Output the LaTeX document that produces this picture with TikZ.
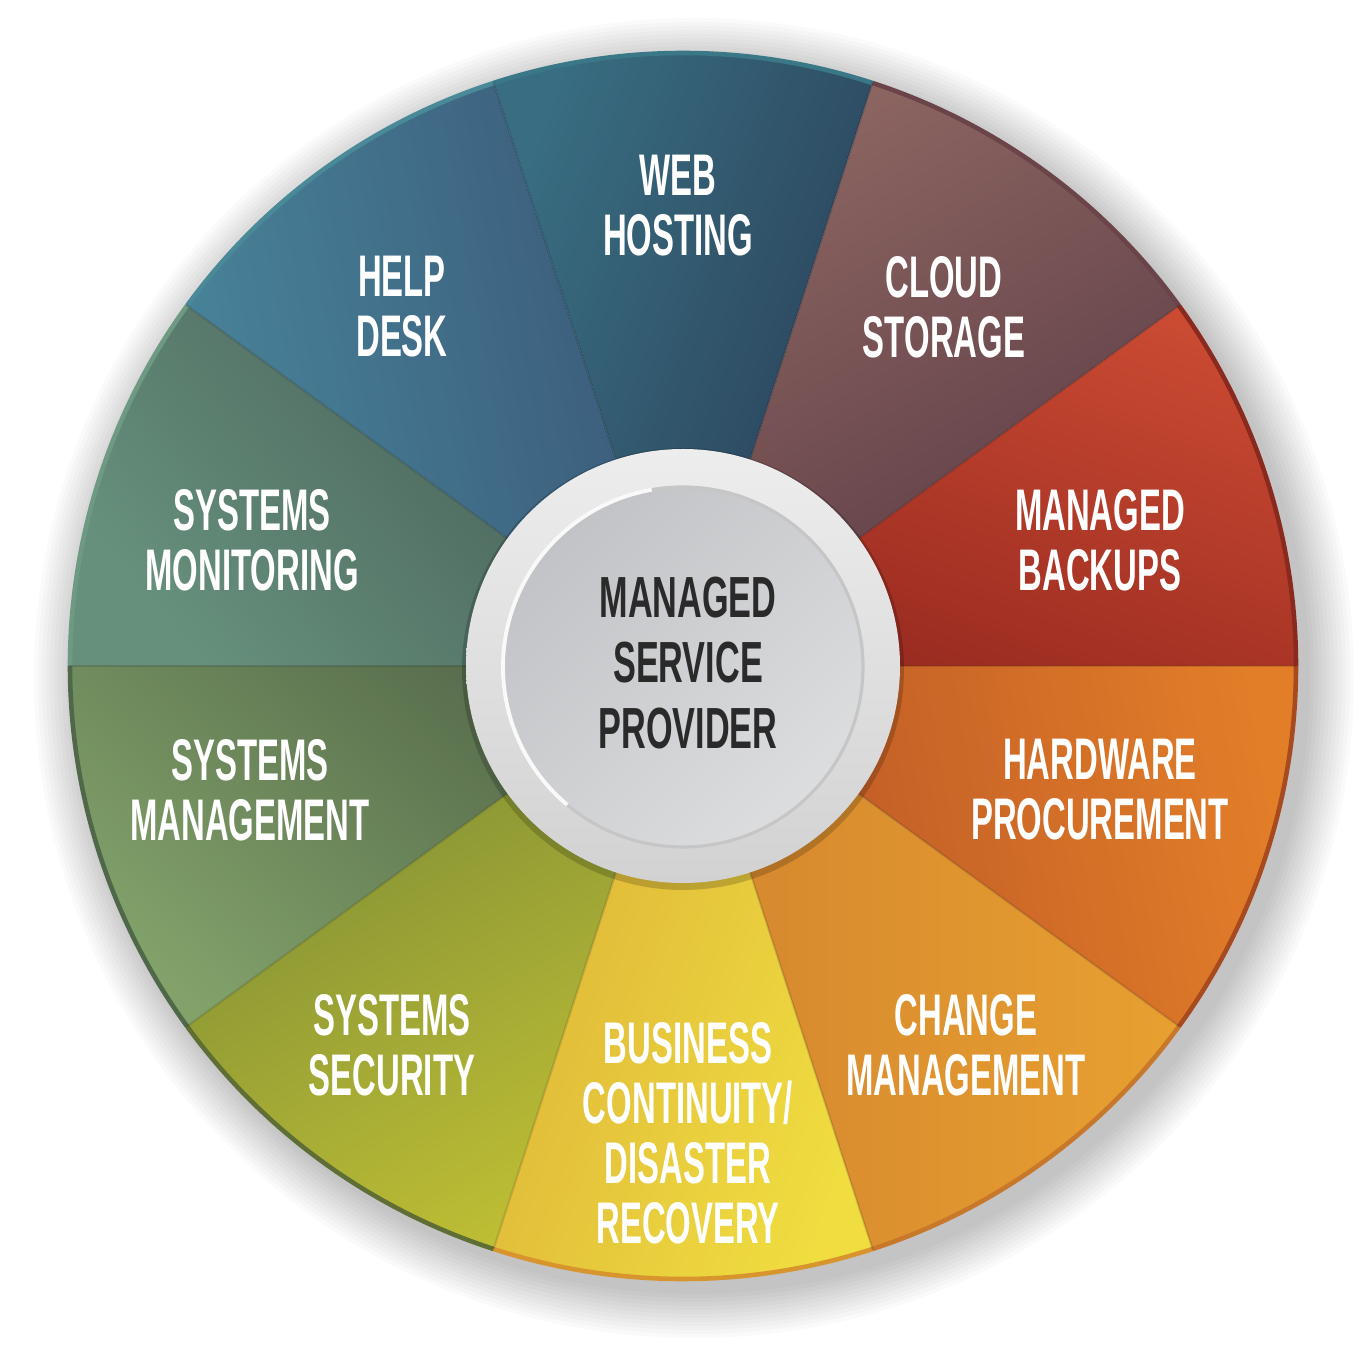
\documentclass[tikz,border=0pt]{standalone}
\usepackage{fontspec}
\newfontfamily\labelfont{Liberation Sans}[FakeStretch=0.56]
\newfontfamily\hubfont{Liberation Sans}[FakeStretch=0.59]
\usetikzlibrary{calc}
\definecolor{mbL}{HTML}{CA4A32}\definecolor{mbD}{HTML}{982A20}\definecolor{mbR}{HTML}{8A2A1E}
\definecolor{csL}{HTML}{8C6561}\definecolor{csD}{HTML}{5A3A44}\definecolor{csR}{HTML}{6A4448}
\definecolor{whL}{HTML}{396E82}\definecolor{whD}{HTML}{2A4058}\definecolor{whR}{HTML}{3A7888}
\definecolor{hdL}{HTML}{48849A}\definecolor{hdD}{HTML}{3A5878}\definecolor{hdR}{HTML}{4A8A98}
\definecolor{smL}{HTML}{66907C}\definecolor{smD}{HTML}{465C56}\definecolor{smR}{HTML}{6E9A84}
\definecolor{sgL}{HTML}{82A26A}\definecolor{sgD}{HTML}{54684A}\definecolor{sgR}{HTML}{50684A}
\definecolor{ssL}{HTML}{BEBE34}\definecolor{ssD}{HTML}{7A8A36}\definecolor{ssR}{HTML}{5E6E34}
\definecolor{bcL}{HTML}{F0DE40}\definecolor{bcD}{HTML}{DDB238}\definecolor{bcR}{HTML}{D8952E}
\definecolor{cmL}{HTML}{E8A030}\definecolor{cmD}{HTML}{D4862E}\definecolor{cmR}{HTML}{C8782A}
\definecolor{hpL}{HTML}{E27E28}\definecolor{hpD}{HTML}{B85426}\definecolor{hpR}{HTML}{A84A20}
\definecolor{hubtxt}{HTML}{2A2A2A}
\definecolor{ringL}{HTML}{EDEDED}\definecolor{ringD}{HTML}{D2D2D3}
\definecolor{discL}{HTML}{DCDDDF}\definecolor{discD}{HTML}{C2C3C6}
\newcommand\segwedge[5]{%
  \shade[top color=#2, bottom color=#3, shading angle=#4]
    (C) -- ++(#1:614) arc[start angle=#1, delta angle=36, radius=614] -- cycle;
  \draw[#5, line width=1.3pt] ($(C)+(#1:613)$) arc[start angle=#1, delta angle=36, radius=613];
}
\tikzset{
  lbl/.style={text=white, font=\labelfont\bfseries\fontsize{16.7}{17.07}\selectfont, align=center, inner sep=0pt},
  hub/.style={text=hubtxt, font=\hubfont\bfseries\fontsize{16.5}{18.5}\selectfont, align=center, inner sep=0pt}
}
\begin{document}
\begin{tikzpicture}[x=0.01cm, y=0.01cm]
\useasboundingbox (0,0) rectangle (1366,1366);
\fill[white] (0,0) rectangle (1366,1366);
\coordinate (C) at (683,700);
\coordinate (S) at (694,688);
% soft shadow
\foreach \r in {616,620,...,660} {
  \fill[black, opacity=0.02] (S) circle[radius=\r];
}
% segments
\segwedge{0}{mbL}{mbD}{-20}{mbR}
\segwedge{36}{csL}{csD}{30}{csR}
\segwedge{72}{whL}{whD}{70}{whR}
\segwedge{108}{hdL}{hdD}{100}{hdR}
\segwedge{144}{smL}{smD}{130}{smR}
\segwedge{180}{sgL}{sgD}{140}{sgR}
\segwedge{216}{ssL}{ssD}{-150}{ssR}
\segwedge{252}{bcL}{bcD}{-110}{bcR}
\segwedge{288}{cmL}{cmD}{-90}{cmR}
\segwedge{324}{hpL}{hpD}{-80}{hpR}
% subtle boundaries
\foreach \a in {0,36,...,324} {
  \draw[black, opacity=0.12, line width=0.6pt] (C) -- ++(\a:614);
}
% hub
\fill[black, opacity=0.18] ($(C)+(0,-3)$) circle[radius=221];
\shade[top color=ringL, bottom color=ringD] (C) circle[radius=217];
\coordinate (D) at (683,699);
\shade[top color=discD, bottom color=discL, shading angle=45] (D) circle[radius=180];
\draw[gray!45, line width=0.9pt] (D) circle[radius=180];
\draw[white, opacity=0.9, line width=1.1pt] ($(D)+(100:180)$) arc[start angle=100, delta angle=130, radius=180];
% labels
\node[lbl] (webhosting) at (678,1160) {WEB\\HOSTING};
\node[lbl] (cloud) at (944,1059) {CLOUD\\STORAGE};
\node[lbl] (helpdesk) at (402,1059) {HELP\\DESK};
\node[lbl] (backups) at (1100,826) {MANAGED\\BACKUPS};
\node[lbl] (monitoring) at (252,826) {SYSTEMS\\MONITORING};
\node[lbl] (management) at (250,576) {SYSTEMS\\MANAGEMENT};
\node[lbl] (procurement) at (1100,576) {HARDWARE\\PROCUREMENT};
\node[lbl] (security) at (392,321) {SYSTEMS\\SECURITY};
\node[lbl] (change) at (966,321) {CHANGE\\MANAGEMENT};
\node[lbl] (continuity) at (688,233) {BUSINESS\\CONTINUITY/\\DISASTER\\RECOVERY};
\node[hub] (msp) at (688,703) {MANAGED\\SERVICE\\PROVIDER};
\end{tikzpicture}
\end{document}
